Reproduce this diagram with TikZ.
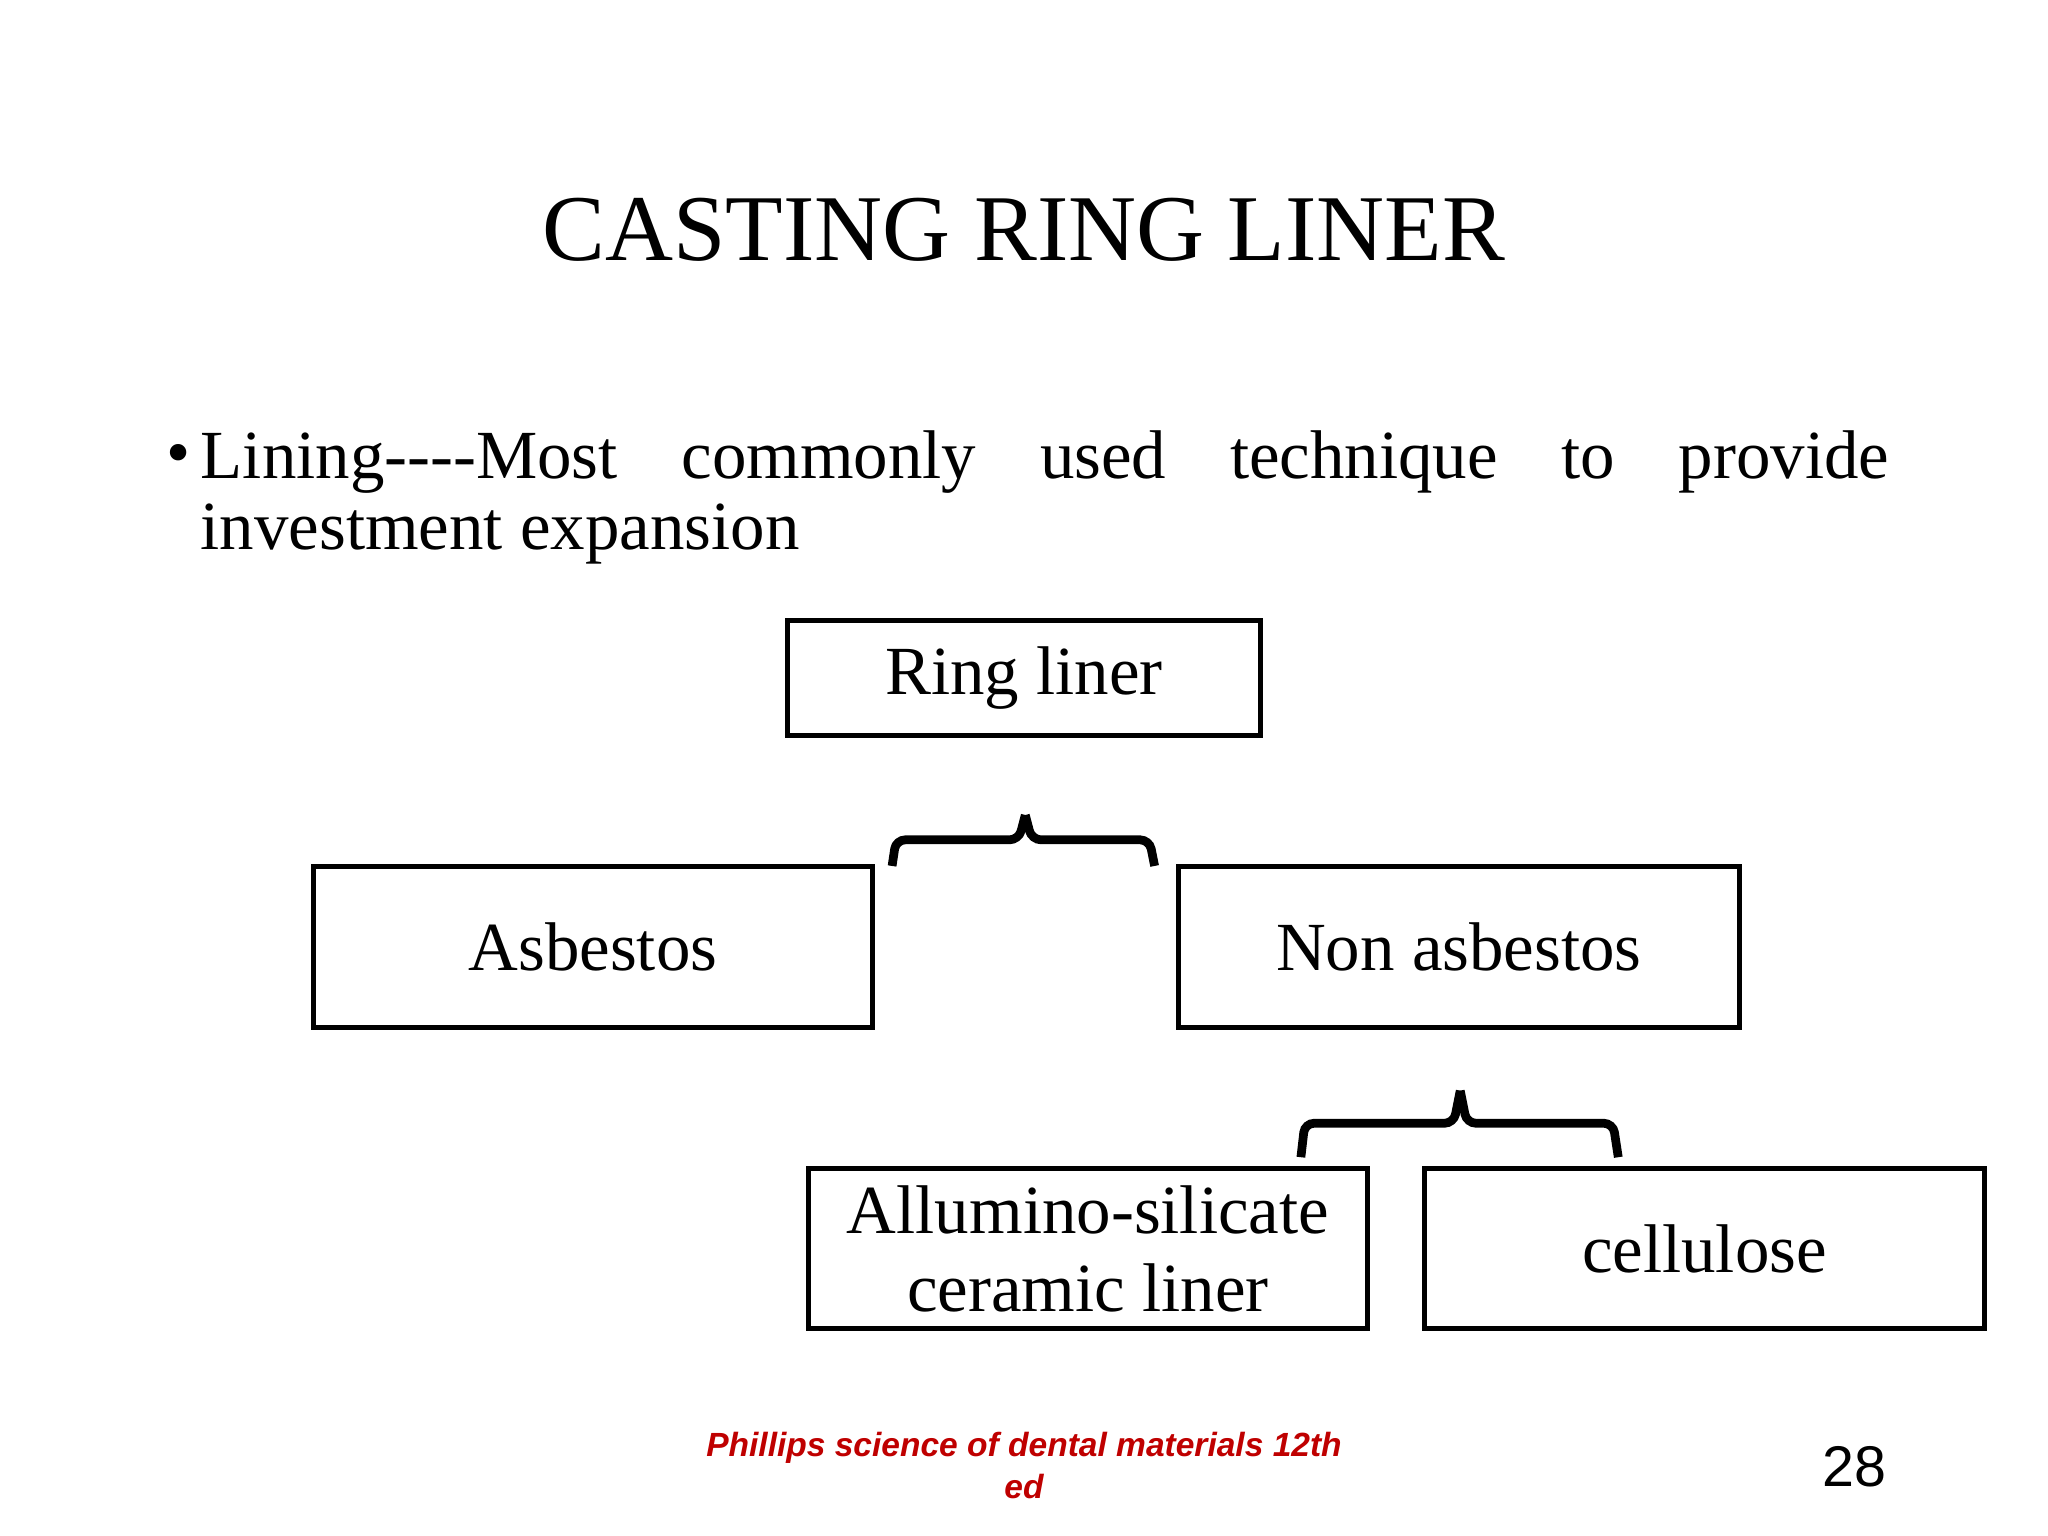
\documentclass[tikz,border=0pt]{standalone}
\usepackage{fontspec}
\setmainfont[Ligatures=NoCommon]{Liberation Serif}
\newfontfamily\footfont{Liberation Sans}
\begin{document}
\begin{tikzpicture}[x=0.01cm,y=-0.01cm,
  bx/.style={draw,line width=1.1pt,inner sep=0pt,font=\fontsize{15}{17}\selectfont,align=center},
  brace/.style={line width=1.9pt,rounded corners=2pt}]
\useasboundingbox (0,0) rectangle (1568,1176);
\node[font=\fontsize{20.5}{24}\selectfont] (title) at (784,176) {CASTING RING LINER};
\node[anchor=base west,inner sep=0pt,font=\fontsize{15}{17}\selectfont] (l1) at (153,366) {\makebox[12.92cm][s]{Lining{-}{-}{-}{-}Most \hfil commonly \hfil used \hfil technique \hfil to \hfil provide}};
\node[anchor=base east,inner sep=0pt,font=\fontsize{15}{17}\selectfont] (bul) at (147,364) {\textbullet};
\node[anchor=base west,inner sep=0pt,font=\fontsize{15}{17}\selectfont] (l2) at (153,421) {investment expansion};
\node[bx,minimum width=3.62cm,minimum height=0.88cm] (ring) at (784,519) {\raisebox{-3pt}{Ring liner}};
\node[bx,minimum width=4.28cm,minimum height=1.23cm] (asb) at (454,725) {\raisebox{-2pt}{Asbestos}};
\node[bx,minimum width=4.29cm,minimum height=1.23cm] (non) at (1117,725) {\raisebox{-2pt}{Non asbestos}};
\node[bx,minimum width=4.28cm,minimum height=1.22cm] (all) at (833,956) {\raisebox{-4pt}{\parbox{4.2cm}{\centering Allumino-silicate\\[0pt]ceramic liner}}};
\node[bx,minimum width=4.29cm,minimum height=1.22cm] (cel) at (1305,956) {cellulose};
\draw[brace] (683,663) -- (686,643) -- (780,643) -- (785,624);
\draw[brace] (785,624) -- (790,643) -- (880,643) -- (884,663);
\draw[brace] (996,886) -- (999,860) -- (1113,860) -- (1118,835);
\draw[brace] (1118,835) -- (1123,860) -- (1235,860) -- (1239,886);
\node[text=red!75!black,font=\footfont\bfseries\itshape\fontsize{7.3}{9}\selectfont,align=center] (ref) at (784,1122) {Phillips science of dental materials 12th\\ed};
\node[font=\footfont\fontsize{12.5}{14}\selectfont] (pg) at (1420,1123) {28};
\end{tikzpicture}
\end{document}
